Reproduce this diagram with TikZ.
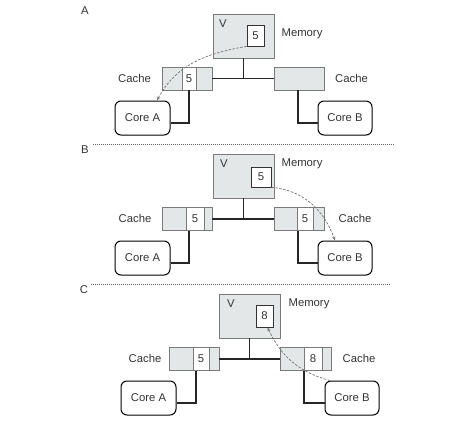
\documentclass[tikz,border=0pt]{standalone}
\usepackage{fontspec}
\setmainfont{Liberation Sans}
\usetikzlibrary{arrows.meta}
\definecolor{memfill}{HTML}{E4E7E7}
\definecolor{boxline}{HTML}{7A7A7A}
\definecolor{txt}{HTML}{333333}
\begin{document}
\begin{tikzpicture}[x=1pt,y=-1pt,
  every node/.style={text=txt, font=\fontsize{11.3}{13}\selectfont},
  mem/.style={draw=boxline, fill=memfill, line width=0.8pt, inner sep=0pt, minimum width=61pt, minimum height=44pt},
  val/.style={draw=black!80, fill=white, line width=0.7pt, inner sep=0pt},
  cachebox/.style={draw=boxline, fill=memfill, line width=0.8pt, minimum width=50pt, minimum height=23pt, inner sep=0pt},
  cell/.style={draw=boxline, fill=white, line width=0.8pt, minimum height=23pt, inner sep=0pt},
  core/.style={draw=black, line width=1pt, rounded corners=6pt, minimum width=55pt, minimum height=34pt, fill=white, inner sep=0pt},
  lbl/.style={inner sep=0pt},
  wire/.style={line width=1.2pt, black!85},
  flow/.style={dash pattern=on 2.5pt off 1.5pt, black!55, line width=0.7pt, -{Stealth[length=4pt,width=3pt]}},
  sep/.style={dash pattern=on 1pt off 1pt, black!60, line width=0.9pt}
]
\useasboundingbox (0,0) rectangle (474,423);

% ---------- Panel A ----------
\node[lbl] (labA) at (85,11) {A};
\node[mem] (memA) at (243.5,36) {};
\node[val, minimum width=17pt, minimum height=21pt] (valA) at (255.5,35.5) {5};
\node[lbl] (vA) at (223,24) {V};
\node[lbl] (memlabA) at (302,34) {Memory};
\node[cachebox] (cacheLA) at (187,78.5) {};
\node[cell, minimum width=14pt] (cellLA) at (189,78.5) {5};
\node[cachebox] (cacheRA) at (299,78.5) {};
\node[lbl] (cacheLlabA) at (134.5,78) {Cache};
\node[lbl] (cacheRlabA) at (351.5,78) {Cache};
\node[core] (coreAA) at (142.5,118) {Core A};
\node[core, minimum width=54pt] (coreBA) at (345,118) {Core B};
\draw[wire] (cacheLA.east) -- (cacheRA.west);
\draw[wire] (memA.south) -- (memA.south |- cacheLA.east);
\draw[wire] ([xshift=2pt]cacheLA.south) |- ([yshift=-5pt]coreAA.east);
\draw[wire] ([xshift=-1pt]cacheRA.south) |- ([yshift=-5pt]coreBA.west);
\draw[flow] (valA.south west) to[out=190,in=62] ([xshift=14.5pt]coreAA.north);

\coordinate (s1a) at (93,144);
\coordinate (s1b) at (395,144);
\draw[sep] (s1a) -- (s1b);

% ---------- Panel B ----------
\node[lbl] (labB) at (85,150) {B};
\node[mem] (memB) at (243.5,176) {};
\node[val, minimum width=20pt, minimum height=20pt] (valB) at (261,177) {5};
\node[lbl] (vB) at (224,164) {V};
\node[lbl] (memlabB) at (302,164) {Memory};
\node[cachebox] (cacheLB) at (187,219) {};
\node[cell, minimum width=18pt] (cellLB) at (195,219) {5};
\node[cachebox] (cacheRB) at (299,219) {};
\node[cell, minimum width=16pt] (cellRB) at (305,219) {5};
\node[lbl] (cacheLlabB) at (135,218) {Cache};
\node[lbl] (cacheRlabB) at (355,218) {Cache};
\node[core] (coreAB) at (142.5,258) {Core A};
\node[core, minimum width=54pt] (coreBB) at (345,258) {Core B};
\draw[wire] (cacheLB.east) -- (cacheRB.west);
\draw[wire] (memB.south) -- (memB.south |- cacheLB.east);
\draw[wire] ([xshift=2pt]cacheLB.south) |- ([yshift=-5pt]coreAB.east);
\draw[wire] ([xshift=-1pt]cacheRB.south) |- ([yshift=-5pt]coreBB.west);
\draw[flow] (valB.south east) to[out=-5,in=110] ([xshift=-10pt]coreBB.north);

\coordinate (s2a) at (91,284);
\coordinate (s2b) at (390,284);
\draw[sep] (s2a) -- (s2b);

% ---------- Panel C ----------
\node[lbl] (labC) at (84,290) {C};
\node[mem] (memC) at (249.5,316) {};
\node[val, minimum width=17pt, minimum height=22pt] (valC) at (264.5,316) {8};
\node[lbl] (vC) at (231,304) {V};
\node[lbl] (memlabC) at (309,304) {Memory};
\node[cachebox] (cacheLC) at (194,359) {};
\node[cell, minimum width=16pt] (cellLC) at (201,359) {5};
\node[cachebox, minimum width=51pt] (cacheRC) at (305.5,359) {};
\node[cell, minimum width=18pt] (cellRC) at (313,359) {8};
\node[lbl] (cacheLlabC) at (145,358) {Cache};
\node[lbl] (cacheRlabC) at (359,358) {Cache};
\node[core] (coreAC) at (148.5,398) {Core A};
\node[core, minimum width=54pt] (coreBC) at (352,398) {Core B};
\draw[wire] (cacheLC.east) -- (cacheRC.west);
\draw[wire] (memC.south) -- (memC.south |- cacheLC.east);
\draw[wire] ([xshift=2pt]cacheLC.south) |- ([yshift=-5pt]coreAC.east);
\draw[wire] ([xshift=-1.5pt]cacheRC.south) |- ([yshift=-5pt]coreBC.west);
\draw[flow] ([xshift=-22pt]coreBC.north) to[out=165,in=-65] ([xshift=3pt]valC.south);
\end{tikzpicture}
\end{document}
